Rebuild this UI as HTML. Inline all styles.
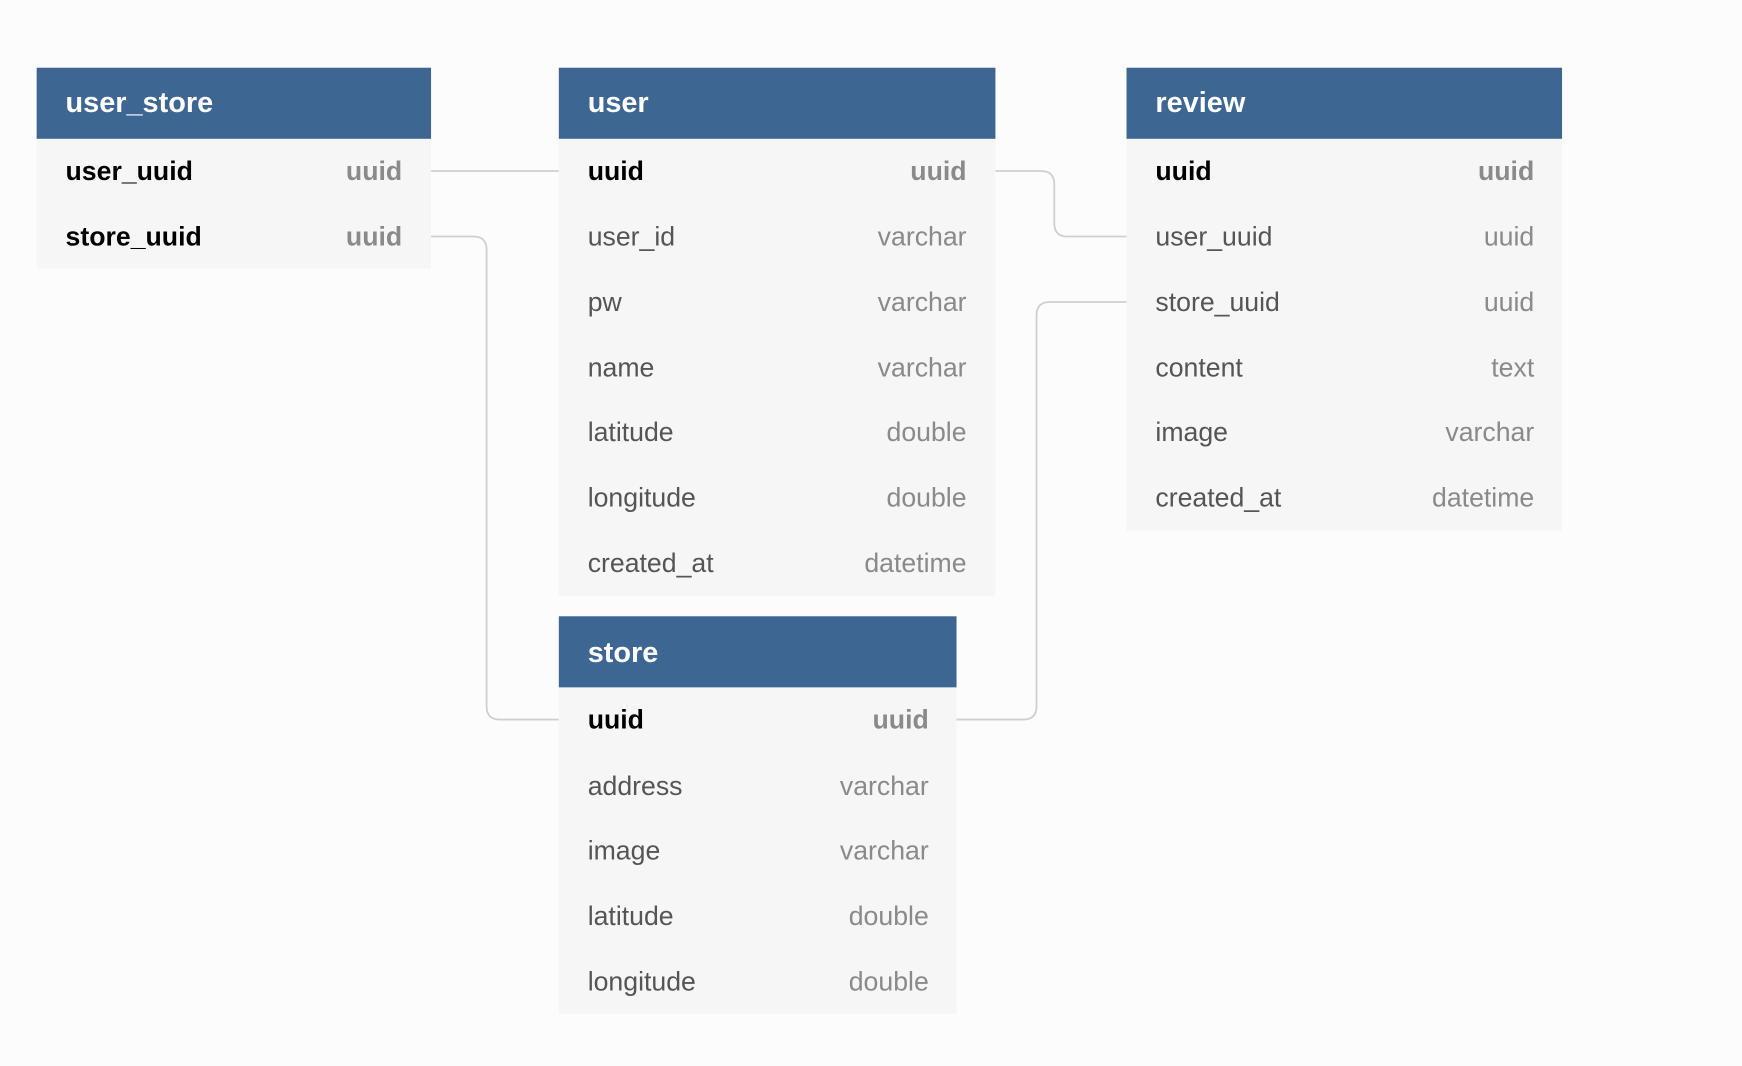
<!DOCTYPE html>
<html><head><meta charset="utf-8"><style>
html,body{margin:0;padding:0;background:#fcfcfc;}
svg{display:block}
text{font-family:"Liberation Sans",sans-serif;}
.h{fill:#fff;font-weight:bold;font-size:26px}
.n{fill:#555;font-size:24px}
.nb{fill:#000;font-weight:bold;font-size:24px}
.t{fill:#8a8a8a;font-size:24px;text-anchor:end}
.tb{fill:#8a8a8a;font-weight:bold;font-size:24px;text-anchor:end}
</style></head><body>
<svg width="1742" height="1066" viewBox="0 0 1568 960" preserveAspectRatio="none" xmlns="http://www.w3.org/2000/svg">
<rect width="1568" height="960" fill="#fcfcfc"/>
<g fill="none" stroke="#cfcfcf" stroke-width="1.6">
<path d="M388 154 H503"/>
<path d="M388 213 H426 Q438 213 438 225 V636 Q438 648 450 648 H503"/>
<path d="M896 154 H937 Q949 154 949 166 V201 Q949 213 961 213 H1014"/>
<path d="M1014 272 H945 Q933 272 933 284 V636 Q933 648 921 648 H861"/>
</g>
<!-- user_store -->
<rect x="33" y="125" width="355" height="117" fill="#f6f6f6"/>
<rect x="33" y="61" width="355" height="64" fill="#3d6792"/>
<text class="h" x="59" y="101">user_store</text>
<text class="nb" x="59" y="162">user_uuid</text><text class="tb" x="362" y="162">uuid</text>
<text class="nb" x="59" y="221">store_uuid</text><text class="tb" x="362" y="221">uuid</text>
<!-- user -->
<rect x="503" y="125" width="393" height="412" fill="#f6f6f6"/>
<rect x="503" y="61" width="393" height="64" fill="#3d6792"/>
<text class="h" x="529" y="101">user</text>
<text class="nb" x="529" y="162">uuid</text><text class="tb" x="870" y="162">uuid</text>
<text class="n" x="529" y="221">user_id</text><text class="t" x="870" y="221">varchar</text>
<text class="n" x="529" y="280">pw</text><text class="t" x="870" y="280">varchar</text>
<text class="n" x="529" y="339">name</text><text class="t" x="870" y="339">varchar</text>
<text class="n" x="529" y="397">latitude</text><text class="t" x="870" y="397">double</text>
<text class="n" x="529" y="456">longitude</text><text class="t" x="870" y="456">double</text>
<text class="n" x="529" y="515">created_at</text><text class="t" x="870" y="515">datetime</text>
<!-- review -->
<rect x="1014" y="125" width="392" height="353" fill="#f6f6f6"/>
<rect x="1014" y="61" width="392" height="64" fill="#3d6792"/>
<text class="h" x="1040" y="101">review</text>
<text class="nb" x="1040" y="162">uuid</text><text class="tb" x="1381" y="162">uuid</text>
<text class="n" x="1040" y="221">user_uuid</text><text class="t" x="1381" y="221">uuid</text>
<text class="n" x="1040" y="280">store_uuid</text><text class="t" x="1381" y="280">uuid</text>
<text class="n" x="1040" y="339">content</text><text class="t" x="1381" y="339">text</text>
<text class="n" x="1040" y="397">image</text><text class="t" x="1381" y="397">varchar</text>
<text class="n" x="1040" y="456">created_at</text><text class="t" x="1381" y="456">datetime</text>
<!-- store -->
<rect x="503" y="619" width="358" height="294" fill="#f6f6f6"/>
<rect x="503" y="555" width="358" height="64" fill="#3d6792"/>
<text class="h" x="529" y="596">store</text>
<text class="nb" x="529" y="656">uuid</text><text class="tb" x="836" y="656">uuid</text>
<text class="n" x="529" y="716">address</text><text class="t" x="836" y="716">varchar</text>
<text class="n" x="529" y="774">image</text><text class="t" x="836" y="774">varchar</text>
<text class="n" x="529" y="833">latitude</text><text class="t" x="836" y="833">double</text>
<text class="n" x="529" y="892">longitude</text><text class="t" x="836" y="892">double</text>
</svg>
</body></html>
